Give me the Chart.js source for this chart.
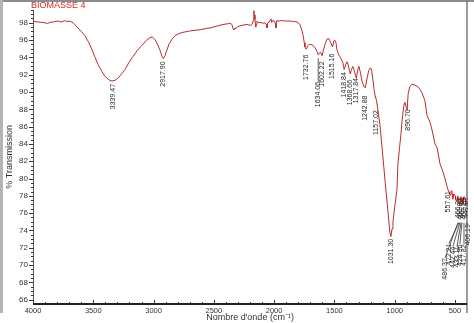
<!DOCTYPE html>
<html><head><meta charset="utf-8">
<script src="https://cdn.jsdelivr.net/npm/chart.js@4.4.0/dist/chart.umd.min.js"></script>
<style>html,body{margin:0;padding:0;background:#fff;overflow:hidden}</style>
</head><body>
<canvas id="c" width="474" height="323" style="display:block;width:474px;height:323px"></canvas>
<script>
const wavenumbers = [4000,3960,3930,3900,3880,3860,3830,3800,3780,3760,3740,3720,3700,3680,3660,3640,3627,3600,3569,3540,3511,3485,3461,3430,3403,3370,3345,3320,3295,3265,3237,3205,3171,3135,3096,3060,3030,3010,2990,2970,2947,2930,2918,2905,2889,2870,2847,2822,2790,2756,2700,2673,2615,2560,2532,2480,2424,2380,2366,2350,2340,2333,2325,2316,2300,2283,2250,2225,2195,2184,2175,2168,2163,2159,2152,2146,2142,2130,2117,2095,2076,2066,2059,2053,2040,2026,2020,2012,1997,1990,1985,1979,1960,1935,1900,1869,1840,1810,1786,1773,1761,1750,1744,1738,1732.76,1722,1710,1695,1678,1660,1645,1634.06,1625,1615,1602.22,1592,1578,1562,1545,1530,1515.16,1505,1497,1487,1479,1465,1454,1440,1430,1418.84,1405,1395,1385,1375,1368.66,1358,1348,1335,1325,1317.84,1305,1296,1285,1270,1255,1242.88,1230,1215,1200,1190,1180,1170,1160,1157.02,1150,1140,1130,1122,1105,1080,1055,1040,1031.30,1022,1014,998,981,973,960,948,940,924,915,905,896.70,888,875,857,832,807,790,774,749,732,707,690,682,666,649,635,624,600,583,566,557.61,548,541,533,525,517,510,500,492,484,475,468,459,452,442,434,425,417,409,400];
const transmission = [98.15,98.1,98.05,98.0,97.9,98.05,98.1,98.2,98.15,98.1,98.25,98.15,98.2,98.1,97.9,97.6,97.4,97.0,96.5,95.8,94.9,94.0,93.2,92.4,91.8,91.4,91.26,91.35,91.6,92.1,92.6,93.4,94.1,94.8,95.4,95.95,96.3,96.35,96.1,95.6,94.85,94.1,93.85,94.2,94.85,95.6,96.1,96.5,96.75,96.9,97.05,97.1,97.2,97.35,97.4,97.6,97.8,97.9,97.95,97.8,97.3,97.2,97.4,97.35,97.55,97.65,97.75,97.8,97.7,97.8,98.2,99.4,98.9,98.4,97.5,97.8,98.2,98.0,98.05,97.95,98.0,97.8,97.4,98.0,98.1,98.45,98.05,98.25,98.2,97.9,97.4,98.25,98.2,98.25,98.2,98.2,98.15,98.1,97.8,97.3,96.65,95.7,95.2,95.0,94.95,95.3,95.5,95.5,95.4,95.1,94.7,94.3,94.5,94.6,94.2,94.8,95.5,96.1,96.15,95.7,95.2,95.9,96.0,95.7,94.9,94.3,94.1,93.7,93.4,92.6,93.2,93.5,93.1,92.5,92.1,92.6,92.95,92.5,91.9,91.6,92.6,92.95,92.3,91.2,90.6,90.5,91.5,92.5,92.8,92.4,91.4,90.2,89.4,89.3,89.0,88.0,87.0,86.2,83.6,79.8,76.1,73.8,73.3,74.2,75.0,76.9,78.7,81.7,83.5,85.1,86.5,88.45,88.8,88.3,87.9,89.8,90.6,90.9,90.8,90.6,90.3,89.9,89.0,87.3,86.5,85.6,85.1,84.0,83.6,82.6,81.7,80.8,80.0,79.1,78.7,78.4,78.1,78.5,78.6,77.6,78.2,78.1,77.6,77.4,78.0,77.2,76.9,77.9,77.8,77.0,77.9,77.8,76.9,77.5];
const xTickValues = [4000,3500,3000,2500,2000,1500,1000,500];
const yTickValues = [66,68,70,72,74,76,78,80,82,84,86,88,90,92,94,96,98];
const peakText = ['3339.47','2917.90','1732.76','1634.06','1602.22','1515.16','1418.84','1368.66','1317.84','1242.88','1157.02','1031.30','896.70','557.61','486.37','472.21','442.44','433.11','424.96','417.82','406.19','466.37','461.82','457.41','451.25','447.07'];
const labelWn = [3339.47,2917.90,1732.76,1634.06,1602.22,1515.16,1418.84,1368.66,1317.84,1242.88,1157.02,1031.30,886,557.61,583,550,517,483,459,425,392,475,459,442,425,409];
const labelTopT = [90.94,93.53,94.32,91.17,93.53,94.43,92.30,91.39,91.62,89.59,87.90,73.04,88.0,78.56,70.79,72.48,72.14,72.14,72.37,72.37,74.73,77.88,77.7,77.88,77.7,77.88];
const leaderStartWn = [1634.06,583,550,517,483,459,425,392];
const leaderStartT = [93.9,70.79,72.48,72.14,72.14,72.37,72.37,74.73];
const leaderEndWn = [1634.06,475,467,459,450,442,425,409];
const leaderEndT = [91.17,74.9,74.9,74.9,74.9,74.9,74.9,74.9];

const points = wavenumbers.map((w, i) => ({x: w, y: transmission[i]}));
const FONT = '"Liberation Sans", Arial, sans-serif';

const decor = {
  id: 'decor',
  beforeDraw(chart) {
    const ctx = chart.ctx;
    ctx.save();
    ctx.fillStyle = '#fff';
    ctx.fillRect(0, 0, chart.width, chart.height);
    ctx.restore();
  },
  afterDraw(chart) {
    const ctx = chart.ctx, xs = chart.scales.x, ys = chart.scales.y, ca = chart.chartArea;
    ctx.save();
    ctx.fillStyle = '#8c8c8c';
    ctx.fillRect(0, 0, chart.width, 2);
    ctx.fillStyle = '#b4b4b4';
    ctx.fillRect(0, 0, 3, 313);
    ctx.strokeStyle = '#7a7a7a';
    ctx.lineWidth = 1.5;
    ctx.beginPath(); ctx.moveTo(ca.right, 0); ctx.lineTo(ca.right, 313); ctx.stroke();
    ctx.strokeStyle = '#555';
    ctx.lineWidth = 1;
    ctx.beginPath(); ctx.moveTo(ca.left + 0.5, ca.top); ctx.lineTo(ca.left + 0.5, ca.bottom); ctx.stroke();
    ctx.strokeStyle = '#222';
    ctx.lineWidth = 2;
    ctx.beginPath(); ctx.moveTo(ca.left, ca.bottom); ctx.lineTo(ca.right, ca.bottom); ctx.stroke();
    ctx.lineWidth = 1;
    ctx.strokeStyle = '#333';
    for (let v = 66; v <= 99.5; v += 0.5) {
      const y = Math.round(ys.getPixelForValue(v)) + 0.5;
      const len = (v % 2 === 0) ? 4 : 2;
      ctx.beginPath(); ctx.moveTo(ca.left - len, y); ctx.lineTo(ca.left, y); ctx.stroke();
    }
    for (let v = 500; v <= 4000; v += 100) {
      const x = Math.round(xs.getPixelForValue(v)) + 0.5;
      const len = (v % 500 === 0) ? 4 : 2;
      ctx.beginPath(); ctx.moveTo(x, ca.bottom); ctx.lineTo(x, ca.bottom - len); ctx.stroke();
    }
    ctx.strokeStyle = '#333';
    ctx.lineWidth = 0.8;
    for (let i = 0; i < leaderStartWn.length; i++) {
      ctx.beginPath();
      ctx.moveTo(xs.getPixelForValue(leaderStartWn[i]), ys.getPixelForValue(leaderStartT[i]));
      ctx.lineTo(xs.getPixelForValue(leaderEndWn[i]), ys.getPixelForValue(leaderEndT[i]));
      ctx.stroke();
    }
    ctx.fillStyle = '#262626';
    ctx.font = '7px ' + FONT;
    ctx.textAlign = 'right';
    ctx.textBaseline = 'middle';
    for (let i = 0; i < peakText.length; i++) {
      const x = xs.getPixelForValue(labelWn[i]);
      const y = ys.getPixelForValue(labelTopT[i]);
      ctx.save();
      ctx.translate(x, y);
      ctx.rotate(-Math.PI / 2);
      ctx.fillText(peakText[i], 0, 0);
      ctx.restore();
    }
    ctx.fillStyle = '#d8262a';
    ctx.font = '9px ' + FONT;
    ctx.textAlign = 'left';
    ctx.textBaseline = 'top';
    ctx.fillText('BIOMASSE 4', 31, 1);
    ctx.restore();
  }
};

new Chart(document.getElementById('c'), {
  type: 'line',
  data: {
    datasets: [{
      data: points,
      borderColor: '#b52d2d',
      borderWidth: 1,
      pointRadius: 0,
      tension: 0,
      fill: false,
      segment: {
        borderColor: c => (c.p0.parsed.x < 560 ? '#e3191d' : '#b52d2d')
      }
    }]
  },
  options: {
    responsive: false,
    animation: false,
    devicePixelRatio: 1,
    layout: {padding: {top: 2, right: 7, left: 0, bottom: 0}},
    plugins: {legend: {display: false}, tooltip: {enabled: false}},
    scales: {
      x: {
        type: 'linear',
        reverse: true,
        min: 400,
        max: 4000,
        afterBuildTicks: s => { s.ticks = xTickValues.map(v => ({value: v})); },
        afterFit: s => { s.height = 19; },
        grid: {display: false, drawTicks: false},
        border: {display: false},
        ticks: {padding: 2, maxRotation: 0, autoSkip: false, color: '#333', font: {size: 7.5, family: FONT}, callback: v => String(v)},
        title: {display: true, text: "Nombre d'onde (cm⁻¹)", color: '#333', padding: 0, font: {size: 9, family: FONT}}
      },
      y: {
        type: 'linear',
        min: 65.5,
        max: 99.5,
        afterBuildTicks: s => { s.ticks = yTickValues.map(v => ({value: v})); },
        afterFit: s => { s.width = 33; },
        grid: {display: false, drawTicks: false},
        border: {display: false},
        ticks: {padding: 5, autoSkip: false, color: '#333', font: {size: 8, family: FONT}, callback: v => String(v)},
        title: {display: true, text: '% Transmission', color: '#333', padding: {top: 4, bottom: 0}, font: {size: 9, family: FONT}}
      }
    }
  },
  plugins: [decor]
});
</script>
</body></html>
